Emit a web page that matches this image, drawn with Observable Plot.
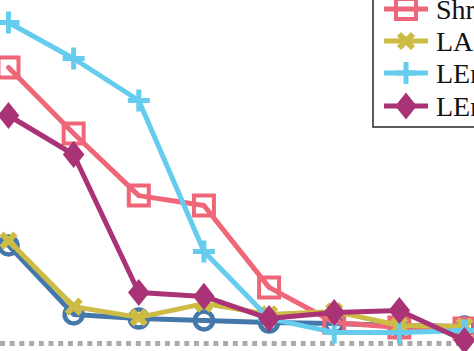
<!DOCTYPE html>
<html><head><meta charset="utf-8">
<script src="https://cdn.jsdelivr.net/npm/d3@7"></script>
<script src="https://cdn.jsdelivr.net/npm/@observablehq/plot@0.6"></script>
<style>
html,body{margin:0;padding:0;background:#fff;overflow:hidden;}
#chart{width:474px;height:351px;overflow:hidden;position:relative;}
#chart svg{overflow:hidden;}
</style>
</head><body><div id="chart"></div>
<script>
// x positions (steps) and series values (arbitrary units, baseline = 0)
const steps = [0, 1, 2, 3, 4, 5, 6, 7];
const blueValues   = [0.327, 0.097, 0.083, 0.077, 0.070, 0.067, 0.060, 0.057];
const pinkValues   = [0.920, 0.700, 0.493, 0.460, 0.187, 0.070, 0.053, 0.050];
const yellowValues = [0.343, 0.123, 0.087, 0.133, 0.097, 0.107, 0.060, 0.057];
const cyanValues   = [1.070, 0.950, 0.810, 0.307, 0.083, 0.037, 0.037, 0.043];
const purpleValues = [0.760, 0.630, 0.170, 0.157, 0.083, 0.103, 0.110, 0.010];
const baseline = [0];
const legendLabels = ["Shr", "LAI", "LEn", "LEn"];

const colors = {blue:"#4477AA", pink:"#EE6677", yellow:"#CCBB44", cyan:"#66CCEE", purple:"#AA3377"};

const R = s => Math.sqrt(s / Math.PI);
const sym = {
  circle: {draw(c, s){const r=R(s); c.moveTo(r,0); c.arc(0,0,r,0,2*Math.PI);}},
  square: {draw(c, s){const r=R(s); c.moveTo(-r,-r); c.lineTo(r,-r); c.lineTo(r,r); c.lineTo(-r,r); c.closePath();}},
  plus:   {draw(c, s){const r=R(s); c.moveTo(-r,0); c.lineTo(r,0); c.moveTo(0,-r); c.lineTo(0,r);}},
  times:  {draw(c, s){const r=R(s)*0.7; c.moveTo(-r,-r); c.lineTo(r,r); c.moveTo(r,-r); c.lineTo(-r,r);}},
  diamond:{draw(c, s){const r=R(s); c.moveTo(0,-1.2*r); c.lineTo(0.95*r,0); c.lineTo(0,1.2*r); c.lineTo(-0.95*r,0); c.closePath();}}
};

const series = [
  {values: blueValues,   color: colors.blue,   symbol: sym.circle,  r: 9,   fill: "none", sw: 4.5},
  {values: pinkValues,   color: colors.pink,   symbol: sym.square,  r: 10,  fill: "none", sw: 4},
  {values: yellowValues, color: colors.yellow, symbol: sym.times,   r: 10,  fill: "none", sw: 6},
  {values: cyanValues,   color: colors.cyan,   symbol: sym.plus,    r: 11,  fill: "none", sw: 5},
  {values: purpleValues, color: colors.purple, symbol: sym.diamond, r: 10,  fill: "purple", sw: 2}
];

const marks = [
  Plot.ruleY(baseline, {stroke: "#aaaaaa", strokeWidth: 5, strokeDasharray: "5,4.7"})
];
for (const s of series) {
  const rows = steps.map((st, i) => ({step: st, value: s.values[i]}));
  marks.push(Plot.line(rows, {x: "step", y: "value", stroke: s.color, strokeWidth: 5, strokeLinejoin: "round", strokeLinecap: "round"}));
  marks.push(Plot.dot(rows, {x: "step", y: "value", symbol: s.symbol, r: s.r,
    fill: s.fill === "none" ? "none" : s.color, stroke: s.color, strokeWidth: s.sw, strokeLinejoin: "miter"}));
}

const plot = Plot.plot({
  width: 474, height: 351,
  marginTop: 0, marginRight: 0, marginBottom: 0, marginLeft: 0,
  x: {domain: [0, 7], range: [8, 464], axis: null},
  y: {domain: [0, 1], range: [343, 43], axis: null},
  style: {background: "#fff", overflow: "hidden"},
  marks
});
document.getElementById("chart").appendChild(plot);

// Legend (partially visible, top-right)
const svg = d3.select(plot);
const lg = svg.append("g").attr("text-anchor", "start");
lg.append("rect").attr("x", 373).attr("y", -60).attr("width", 200).attr("height", 187)
  .attr("fill", "#fff").attr("stroke", "#333").attr("stroke-width", 1.6);
const rowsY = [9, 41, 73, 106];
series.slice(1).forEach((s, i) => {
  const y = rowsY[i];
  lg.append("line").attr("x1", 384).attr("x2", 428).attr("y1", y).attr("y2", y)
    .attr("stroke", s.color).attr("stroke-width", 5);
  lg.append("path").attr("transform", `translate(406,${y})`)
    .attr("d", d3.symbol(s.symbol, s.r * s.r * Math.PI)())
    .attr("fill", s.fill === "none" ? "none" : s.color)
    .attr("stroke", s.color).attr("stroke-width", s.sw);
  lg.append("text").attr("x", 436).attr("y", y + 9.5)
    .style("text-anchor", "start")
    .style("font-family", "'Liberation Serif', 'DejaVu Serif', serif")
    .style("font-size", "28px").attr("fill", "#111").text(legendLabels[i]);
});
</script>
</body></html>
